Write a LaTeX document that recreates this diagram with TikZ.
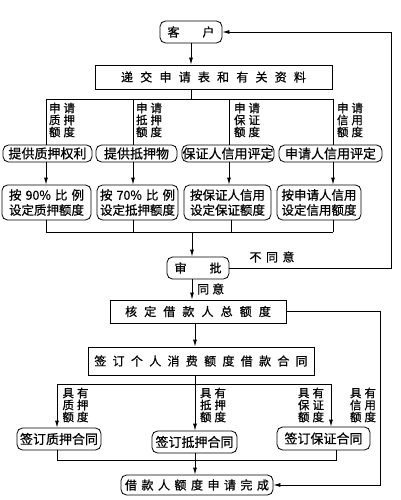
\documentclass[tikz,border=0pt]{standalone}
\usepackage{fontspec}
\setmainfont{Noto Sans CJK SC}[FakeBold=0.6]
\usetikzlibrary{arrows.meta,calc}
\ExplSyntaxOn
\NewDocumentCommand\spreadtext{m m}{
  \seq_clear:N \l_tmpa_seq
  \tl_map_inline:nn {#2} { \seq_put_right:Nn \l_tmpa_seq {##1} }
  \seq_use:Nn \l_tmpa_seq { \hspace{#1} }
}
\ExplSyntaxOff
\tikzset{
  box/.style={draw, line width=0.8pt, inner sep=0pt, align=center},
  rbox/.style={box, rounded corners=5.5pt},
  fa/.style={font=\fontsize{12}{14}\selectfont},
  fb/.style={font=\fontsize{13}{15}\selectfont},
  fc/.style={font=\fontsize{12.5}{15}\selectfont},
  lab/.style={inner sep=0pt, align=center, font=\fontsize{11.5}{12}\selectfont},
  ln/.style={line width=0.8pt},
  arr/.style={line width=0.8pt, -{Latex[length=7pt,width=4pt]}}
}
\begin{document}
\begin{tikzpicture}[x=1pt,y=-1pt]
\fill[white] (0,0) rectangle (400,500);
\useasboundingbox (0,0) rectangle (400,500);
% nodes
\node[rbox,fa,minimum width=62pt,minimum height=22pt] (cust) at (191,32) {\spreadtext{23pt}{客户}};
\node[box,fa,minimum width=237pt,minimum height=24pt] (submit) at (213.5,77) {\spreadtext{7.2pt}{递交申请表和有关资料}};
\node[rbox,fb,minimum width=89pt,minimum height=17pt] (b1) at (47.5,153.5) {提供质押权利};
\node[rbox,fb,minimum width=81pt,minimum height=17pt] (b2) at (136.5,153.5) {提供抵押物};
\node[rbox,fb,minimum width=92pt,minimum height=17pt] (b3) at (228,153.5) {保证人信用评定};
\node[rbox,fb,minimum width=103pt,minimum height=17pt] (b4) at (330.5,153.5) {申请人信用评定};
\node[lab] (l1) at (62,120) {申\hspace{3pt}请\\质\hspace{3pt}押\\额\hspace{3pt}度};
\node[lab] (l2) at (149,120) {申\hspace{3pt}请\\抵\hspace{3pt}押\\额\hspace{3pt}度};
\node[lab] (l3) at (247,120) {申\hspace{3pt}请\\保\hspace{3pt}证\\额\hspace{3pt}度};
\node[lab] (l4) at (350,120) {申\hspace{3pt}请\\信\hspace{3pt}用\\额\hspace{3pt}度};
\node[rbox,fc,minimum width=89pt,minimum height=35pt] (c1) at (46.5,202.5) {\hbox to 75pt{按\hfil 90\%\hfil 比\hfil 例}\\设定质押额度};
\node[rbox,fc,minimum width=81pt,minimum height=35pt] (c2) at (137.5,202.5) {\hbox to 75pt{按\hfil 70\%\hfil 比\hfil 例}\\设定抵押额度};
\node[rbox,fc,minimum width=87pt,minimum height=35pt] (c3) at (227.5,202.5) {按保证人信用\\设定保证额度};
\node[rbox,fc,minimum width=84pt,minimum height=35pt] (c4) at (319,202.5) {按申请人信用\\设定信用额度};
\node[rbox,fa,minimum width=62pt,minimum height=22pt] (appr) at (198,268) {\spreadtext{23pt}{审批}};
\node[lab,font=\fontsize{12}{14}\selectfont] (no) at (272,257) {\spreadtext{4.5pt}{不同意}};
\node[lab,font=\fontsize{12}{14}\selectfont,anchor=west] (yes) at (197,289) {\spreadtext{3pt}{同意}};
\node[box,fa,minimum width=176pt,minimum height=23pt] (verify) at (198,311.5) {\spreadtext{7.1pt}{核定借款人总额度}};
\node[box,fa,minimum width=226pt,minimum height=28pt] (sign) at (201,361) {\spreadtext{6.3pt}{签订个人消费额度借款合同}};
\node[lab] (k1) at (75.5,405) {具\hspace{3pt}有\\质\hspace{3pt}押\\额\hspace{3pt}度};
\node[lab] (k2) at (213,405) {具\hspace{3pt}有\\抵\hspace{3pt}押\\额\hspace{3pt}度};
\node[lab] (k3) at (311,405) {具\hspace{3pt}有\\保\hspace{3pt}证\\额\hspace{3pt}度};
\node[lab] (k4) at (363,405) {具\hspace{3pt}有\\信\hspace{3pt}用\\额\hspace{3pt}度};
\node[rbox,fb,minimum width=84pt,minimum height=22pt] (s1) at (59,439) {签订质押合同};
\node[rbox,fb,minimum width=85pt,minimum height=22pt] (s2) at (194.5,442) {签订抵押合同};
\node[rbox,fb,minimum width=93pt,minimum height=23pt] (s3) at (323.5,438.5) {签订保证合同};
\node[rbox,fa,minimum width=152pt,minimum height=20pt] (fin) at (197,485) {\spreadtext{4.5pt}{借款人额度申请完成}};
% coordinates
\coordinate (tA) at (191,99);
\coordinate (t1) at (46,99);
\coordinate (t2) at (133,99);
\coordinate (t3) at (229,99);
\coordinate (t4) at (333,99);
\coordinate (mA) at (192,232);
\coordinate (m1) at (46,232);
\coordinate (m2) at (133,232);
\coordinate (m3) at (231,232);
\coordinate (m4) at (333,232);
\coordinate (fx) at (391,0);
\coordinate (sA) at (195,384);
\coordinate (s1c) at (57,384);
\coordinate (s3c) at (331,384);
\coordinate (rx) at (380,0);
\coordinate (u1) at (57,460);
\coordinate (u3) at (336,460);
\coordinate (uA) at (195,460);
% connectors
\draw[arr] (cust.south -| tA) -- (submit.north -| tA);
\draw[ln] (submit.south -| tA) -- (tA);
\draw[ln] (t1) -- (t4);
\draw[ln] (t1) -- (t1 |- b1.north);
\draw[ln] (t2) -- (t2 |- b2.north);
\draw[ln] (t3) -- (t3 |- b3.north);
\draw[ln] (t4) -- (t4 |- b4.north);
\draw[arr] (b1.south -| t1) -- (c1.north -| t1);
\draw[arr] (b2.south -| t2) -- (c2.north -| t2);
\draw[arr] (b3.south -| t3) -- (c3.north -| t3);
\draw[arr] (b4.south -| t4) -- (c4.north -| t4);
\draw[ln] (c1.south -| m1) -- (m1);
\draw[ln] (c2.south -| m2) -- (m2);
\draw[ln] (c3.south -| m3) -- (m3);
\draw[ln] (c4.south -| m4) -- (m4);
\draw[ln] (m1) -- (m4);
\draw[arr] (mA) -- (mA |- appr.north);
\draw[arr] (appr.east) -- (appr.east -| fx) -- (fx |- cust.east) -- (cust.east);
\draw[arr] (appr.south -| mA) -- (verify.north -| mA);
\draw[arr] (verify.south -| sA) -- (sign.north -| sA);
\draw[ln] (sign.south -| sA) -- (sA);
\draw[ln] (s1c) -- (s3c);
\draw[arr] (s1c) -- (s1c |- s1.north);
\draw[arr] (sA) -- (sA |- s2.north);
\draw[arr] (s3c) -- (s3c |- s3.north);
\draw[arr] (verify.east) -- (verify.east -| rx) -- (rx |- fin.east) -- (fin.east);
\draw[ln] (s1.south -| u1) -- (u1) -- (u3) -- (s3.south -| u3);
\draw[arr] (s2.south -| uA) -- (fin.north -| uA);
\end{tikzpicture}
\end{document}
